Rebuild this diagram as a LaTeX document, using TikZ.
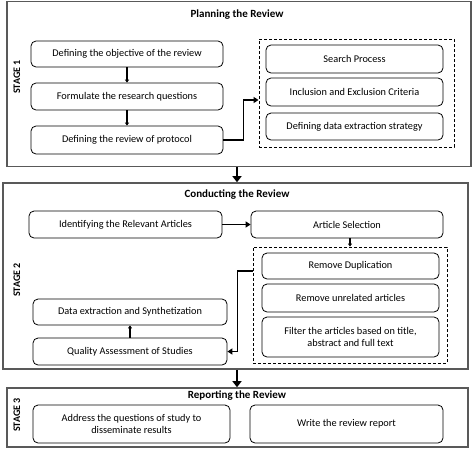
\documentclass[tikz,border=0pt]{standalone}
\usepackage{fontspec}
\setmainfont{Carlito}
\usetikzlibrary{arrows.meta}

\begin{document}
\begin{tikzpicture}[x=1pt,y=-1pt,
  stagebox/.style={draw=black!65,line width=1.6pt,inner sep=0pt},
  step box/.style={draw,rounded corners=5pt,line width=0.8pt,inner sep=0pt,align=center,font=\fontsize{10.3}{12.5}\selectfont},
  dashbox/.style={draw,densely dashed,line width=0.9pt,inner sep=0pt},
  title/.style={font=\bfseries\fontsize{11}{13}\selectfont},
  stagelabel/.style={rotate=90,font=\bfseries\fontsize{10}{12}\selectfont},
  flow/.style={line width=1.8pt,-{Triangle[length=5pt,width=6pt]}},
  tick/.style={line width=1.4pt,-{Triangle[length=3pt,width=4pt]}},
  bigarrow/.style={line width=2.6pt,-{Triangle[length=6pt,width=9pt]}}]
\useasboundingbox (0,0) rectangle (474,448);
% stage frames
\node[stagebox,minimum width=464pt,minimum height=165pt] (stageone) at (239,84) {};
\node[stagebox,minimum width=465pt,minimum height=186pt] (stagetwo) at (235.5,276) {};
\node[stagebox,minimum width=461pt,minimum height=59pt] (stagethree) at (237.5,417.5) {};
\node[title] (plan) at (237,15) {Planning the Review};
\node[title] (cond) at (237,195) {Conducting the Review};
\node[title] (report) at (237,396) {Reporting the Review};
\node[stagelabel] (sone) at (17,77) {STAGE 1};
\node[stagelabel] (stwo) at (17,280) {STAGE 2};
\node[stagelabel] (sthree) at (17,415) {STAGE 3};
% stage 1
\node[step box,minimum width=192pt,minimum height=26pt] (obj) at (127,54) {Defining the objective of the review};
\node[step box,minimum width=192pt,minimum height=27pt] (quest) at (127,96.5) {Formulate the research questions};
\node[step box,minimum width=192pt,minimum height=28pt] (prot) at (127,140) {Defining the review of protocol};
\node[dashbox,minimum width=195pt,minimum height=108pt] (plangroup) at (356.5,93) {};
\node[step box,minimum width=177pt,minimum height=28pt] (search) at (354.5,59) {Search Process};
\node[step box,minimum width=177pt,minimum height=28pt] (incl) at (354.5,92) {Inclusion and Exclusion Criteria};
\node[step box,minimum width=177pt,minimum height=27pt] (extr) at (354.5,126.5) {Defining data extraction strategy};
\draw[tick] (obj) -- (quest);
\draw[tick] (quest) -- (prot);
\draw[flow] (prot.east) -- ++(20,0) |- ([yshift=-7pt]plangroup.west);
% stage 2
\node[step box,minimum width=193pt,minimum height=27pt] (ident) at (125.5,224.5) {Identifying the Relevant Articles};
\node[step box,minimum width=192pt,minimum height=27pt] (select) at (347,224.5) {Article Selection};
\node[dashbox,minimum width=194pt,minimum height=116pt] (selgroup) at (350,305) {};
\node[step box,minimum width=177pt,minimum height=26pt] (dup) at (350.5,266) {Remove Duplication};
\node[step box,minimum width=177pt,minimum height=28pt] (unrel) at (350.5,298) {Remove unrelated articles};
\node[step box,minimum width=177pt,minimum height=40pt] (filt) at (350.5,337) {Filter the articles based on title,\\abstract and full text};
\node[step box,minimum width=194pt,minimum height=26pt] (synth) at (130,312) {Data extraction and Synthetization};
\node[step box,minimum width=194pt,minimum height=27pt] (qual) at (130,351.5) {Quality Assessment of Studies};
\draw[flow] (ident) -- (select);
\draw[tick] (select.south -| selgroup.north) -- (selgroup.north);
\draw[flow] ([yshift=34pt]selgroup.west) -- ++(-15,0) |- (qual.east);
\draw[tick] (qual) -- (synth);
% stage 3
\node[step box,minimum width=197pt,minimum height=38pt] (address) at (131.5,424) {Address the questions of study to\\disseminate results};
\node[step box,minimum width=193pt,minimum height=38pt] (write) at (346.5,424) {Write the review report};
% between stages
\draw[bigarrow] (stageone.south -| plan) -- (stagetwo.north -| plan);
\draw[bigarrow] (stagetwo.south -| plan) -- (stagethree.north -| plan);
\end{tikzpicture}
\end{document}
